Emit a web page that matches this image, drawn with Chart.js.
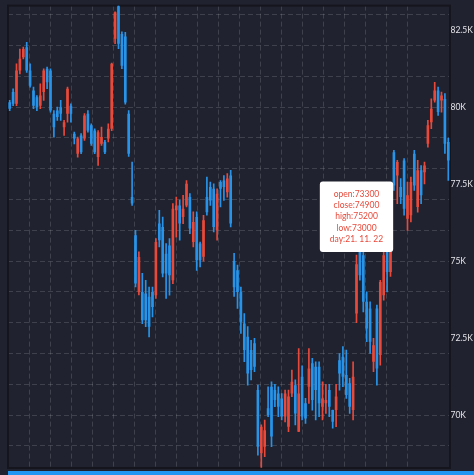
<!DOCTYPE html>
<html>
<head>
<meta charset="utf-8">
<script src="https://cdn.jsdelivr.net/npm/chart.js@4.4.1/dist/chart.umd.min.js"></script>
<style>
  html, body { margin: 0; padding: 0; background: #20222f; overflow: hidden; }
  #wrap { position: relative; width: 474px; height: 475px; }
  #bar { position: absolute; left: 8px; top: 471px; width: 466px; height: 4px; background: #2196f3; }
</style>
</head>
<body>
<div id="wrap">
  <canvas id="c" width="474" height="475"></canvas>
  <div id="bar"></div>
</div>
<script>
const days = [
  "30. 06. 22","01. 07. 22","04. 07. 22","05. 07. 22","06. 07. 22","07. 07. 22","08. 07. 22","11. 07. 22","12. 07. 22","13. 07. 22",
  "14. 07. 22","15. 07. 22","18. 07. 22","19. 07. 22","20. 07. 22","21. 07. 22","22. 07. 22","25. 07. 22","26. 07. 22","27. 07. 22",
  "28. 07. 22","29. 07. 22","01. 08. 22","02. 08. 22","03. 08. 22","04. 08. 22","05. 08. 22","08. 08. 22","09. 08. 22","10. 08. 22",
  "11. 08. 22","12. 08. 22","15. 08. 22","16. 08. 22","17. 08. 22","18. 08. 22","19. 08. 22","22. 08. 22","23. 08. 22","24. 08. 22",
  "25. 08. 22","26. 08. 22","29. 08. 22","30. 08. 22","31. 08. 22","01. 09. 22","02. 09. 22","05. 09. 22","06. 09. 22","07. 09. 22",
  "08. 09. 22","09. 09. 22","12. 09. 22","13. 09. 22","14. 09. 22","15. 09. 22","16. 09. 22","19. 09. 22","20. 09. 22","21. 09. 22",
  "22. 09. 22","23. 09. 22","26. 09. 22","27. 09. 22","28. 09. 22","29. 09. 22","30. 09. 22","03. 10. 22","04. 10. 22","05. 10. 22",
  "06. 10. 22","07. 10. 22","10. 10. 22","11. 10. 22","12. 10. 22","13. 10. 22","14. 10. 22","17. 10. 22","18. 10. 22","19. 10. 22",
  "20. 10. 22","21. 10. 22","24. 10. 22","25. 10. 22","26. 10. 22","27. 10. 22","28. 10. 22","31. 10. 22","01. 11. 22","02. 11. 22",
  "03. 11. 22","04. 11. 22","07. 11. 22","08. 11. 22","09. 11. 22","10. 11. 22","11. 11. 22","14. 11. 22","15. 11. 22","16. 11. 22",
  "17. 11. 22","18. 11. 22","21. 11. 22","22. 11. 22","23. 11. 22","24. 11. 22","25. 11. 22","28. 11. 22","29. 11. 22","30. 11. 22",
  "01. 12. 22","02. 12. 22","05. 12. 22","06. 12. 22","07. 12. 22","08. 12. 22","09. 12. 22","12. 12. 22","13. 12. 22","14. 12. 22",
  "15. 12. 22","16. 12. 22","19. 12. 22","20. 12. 22","21. 12. 22","22. 12. 22","23. 12. 22","26. 12. 22","27. 12. 22","28. 12. 22"
];
const openP = [
  80160,80490,80110,81190,81620,81950,81190,80540,80320,80050,
  80490,81250,81190,79790,79890,80000,79350,79790,80050,79140,
  78490,79080,78980,79790,79410,79240,78380,78810,78870,78980,
  79300,82220,83280,82380,82300,79790,77080,75840,74000,74000,
  73950,73840,74000,73890,76220,76110,75240,75510,74380,76650,
  76810,76430,76810,77080,75620,76430,75570,75140,77080,77410,
  77350,76000,77570,77620,77240,77780,75000,74700,74000,72970,
  72540,72110,72330,70810,68760,68970,70220,70920,70810,70700,
  70540,69950,69620,70700,70970,69460,71240,70380,70920,71680,
  71570,71570,70270,70380,70810,70160,70160,71780,71890,71300,
  71030,70160,73300,75410,75190,73680,73460,71730,73460,71950,
  73890,75300,74650,78540,77780,77410,78270,76380,76490,78490,
  76760,77950,77890,78810,79510,80220,80540,80220,80270,78870
];
const closeP = [
  79950,80110,81190,81570,81890,81190,80700,80050,80000,80380,
  81190,80810,79890,79350,79680,79790,79510,80600,79790,78980,
  78980,78540,79730,79240,78810,78540,79190,79030,78540,79300,
  81410,83080,82060,81350,80150,78490,76870,74270,75130,73080,
  73080,72870,73510,75620,75680,74600,74600,74540,76700,76810,
  76220,76700,77510,76060,76270,75030,75030,76330,76590,76970,
  76110,77190,77350,77410,77680,76220,74150,74000,73030,72110,
  71350,71460,71570,68970,69620,69510,70000,69300,70490,70270,
  69950,70700,70600,71080,70050,70700,69950,69890,71510,70490,
  70810,70380,70540,70490,70270,69780,70600,71350,71240,70650,
  70270,71240,74900,74540,73680,72810,72380,72270,71510,74320,
  75190,74650,75600,77460,78220,77080,76700,77140,77570,77460,
  77950,77140,78110,79410,79950,80540,79840,80380,78810,78270
];
const highP = [
  80220,80600,81410,81890,81950,82110,81410,80650,80380,80760,
  81250,81300,81250,79890,80000,80220,79570,80650,80110,79190,
  79030,79140,79790,79890,79460,79300,79240,79350,78920,79460,
  81430,83100,83300,82450,82430,79890,78220,76000,75300,74600,
  74380,74160,74160,75730,76650,76430,75570,75730,76870,77080,
  76980,77140,77620,77190,76600,76600,75620,76490,77730,77570,
  77510,77350,77620,77780,77840,77950,75250,74870,74160,73300,
  72870,72430,72490,70970,69680,69840,70920,71080,71000,70920,
  70700,70810,70810,71460,71140,72160,71600,70540,72160,71840,
  71730,71730,71080,71000,71000,70160,71000,72000,72220,72110,
  71190,71730,75200,75460,75510,74000,73680,72490,73570,74380,
  75510,76000,75900,78600,78270,77680,78330,77570,77730,78600,
  78270,78100,78220,79570,80270,80810,80650,80490,80440,79000
];
const lowP = [
  79890,80050,80050,81080,81570,81130,80650,79950,79890,79950,
  80220,80600,79840,79030,79570,79570,79080,79510,79510,78810,
  78380,78490,78920,79190,78760,78490,78110,78760,78490,78870,
  79240,82060,81900,81250,80100,78400,76810,74160,73900,72970,
  72870,72540,73190,73790,75460,74490,73790,73890,74270,75780,
  75680,76220,76760,75890,75460,74700,74810,75000,76490,76810,
  75950,75680,76760,76970,77080,76110,73850,73460,72650,71730,
  70970,71140,71410,68700,68300,68650,69950,68970,70270,69950,
  69840,69780,69460,70600,69680,69460,69840,69730,70380,70160,
  69840,69950,69840,70050,69950,69570,69620,70810,70920,70540,
  70050,69840,73000,74380,73350,72380,72000,71410,70970,71620,
  73730,74000,74500,77300,76870,76870,76490,76000,76270,77300,
  76590,76870,77510,78700,79300,80160,79730,79840,78500,77620
];
const yLabelValues = [70000, 72500, 75000, 77500, 80000, 82500];
const yGridValues = [69000,70000,71000,72000,73000,74000,75000,76000,77000,78000,79000,80000,81000,82000,83000];
const yMin = 68280, yMax = 83300;
const xGridDivisions = 20;
const hoverIndex = 102;

const UP = '#e8493a', DOWN = '#2794ea';
const colorFor = i => closeP[i] >= openP[i] ? UP : DOWN;
const candleColors = days.map((d, i) => colorFor(i));
const wickData = days.map((d, i) => [lowP[i], highP[i]]);
const bodyData = days.map((d, i) => [openP[i], closeP[i]]);
const gridColor = 'rgba(255,255,255,0.14)';

const frame = {
  id: 'frame',
  beforeDatasetsDraw(chart) {
    const a = chart.chartArea, ctx = chart.ctx;
    ctx.save();
    ctx.strokeStyle = '#14151d';
    ctx.lineWidth = 2;
    ctx.strokeRect(a.left, a.top, a.right - a.left, a.bottom - a.top);
    ctx.restore();
  }
};

const chart = new Chart(document.getElementById('c'), {
  type: 'bar',
  data: {
    labels: days,
    datasets: [
      { label: 'wick', data: wickData, backgroundColor: candleColors, hoverBackgroundColor: candleColors,
        borderWidth: 0, barThickness: 1, grouped: false, order: 2 },
      { label: 'body', data: bodyData, backgroundColor: candleColors, hoverBackgroundColor: candleColors,
        borderWidth: 0, barPercentage: 0.78, categoryPercentage: 1, grouped: false, order: 1 }
    ]
  },
  options: {
    responsive: false,
    animation: false,
    events: [],
    layout: { padding: { left: 8, top: 5, right: 0, bottom: 7 } },
    plugins: {
      legend: { display: false },
      tooltip: {
        enabled: true,
        backgroundColor: '#ffffff',
        bodyColor: '#e8493a',
        bodyFont: { family: 'Lato', size: 8.5, lineHeight: 1.33 },
        bodyAlign: 'center',
        bodySpacing: 0,
        displayColors: false,
        caretSize: 0,
        caretPadding: 3,
        cornerRadius: 3,
        padding: { left: 10, right: 10, top: 7, bottom: 7 },
        xAlign: 'center',
        yAlign: 'bottom',
        callbacks: {
          title: () => '',
          label: ctx => {
            const i = ctx.dataIndex;
            return ['open:' + openP[i], 'close:' + closeP[i], 'high:' + highP[i], 'low:' + lowP[i], 'day:' + days[i]];
          }
        }
      }
    },
    scales: {
      x: { type: 'category', display: false, offset: true },
      xg: {
        type: 'linear', position: 'bottom', min: 0, max: xGridDivisions,
        ticks: { display: false, stepSize: 1 },
        grid: { color: c => (c.tick && (c.tick.value === 0 || c.tick.value === xGridDivisions)) ? 'transparent' : gridColor, drawTicks: false, lineWidth: 1 },
        border: { display: false, dash: [5, 3] },
        afterFit: s => { s.height = 0; }
      },
      y: {
        position: 'right', min: yMin, max: yMax,
        afterBuildTicks: s => {
          const vals = Array.from(new Set(yGridValues.concat(yLabelValues))).sort((a, b) => a - b);
          s.ticks = vals.map(v => ({ value: v }));
        },
        afterFit: s => { s.width = 24; },
        ticks: {
          autoSkip: false,
          padding: 0.5,
          color: '#e4e4e8',
          font: { family: 'Lato', size: 8.5 },
          callback: v => yLabelValues.includes(v) ? (v / 1000) + 'K' : ''
        },
        grid: { color: c => (c.tick && yGridValues.includes(c.tick.value)) ? gridColor : 'transparent', drawTicks: false },
        border: { display: false, dash: [5, 3] }
      }
    }
  },
  plugins: [frame]
});

chart.tooltip.setActiveElements([{ datasetIndex: 0, index: hoverIndex }], { x: 0, y: 0 });
chart.update();
</script>
</body>
</html>
